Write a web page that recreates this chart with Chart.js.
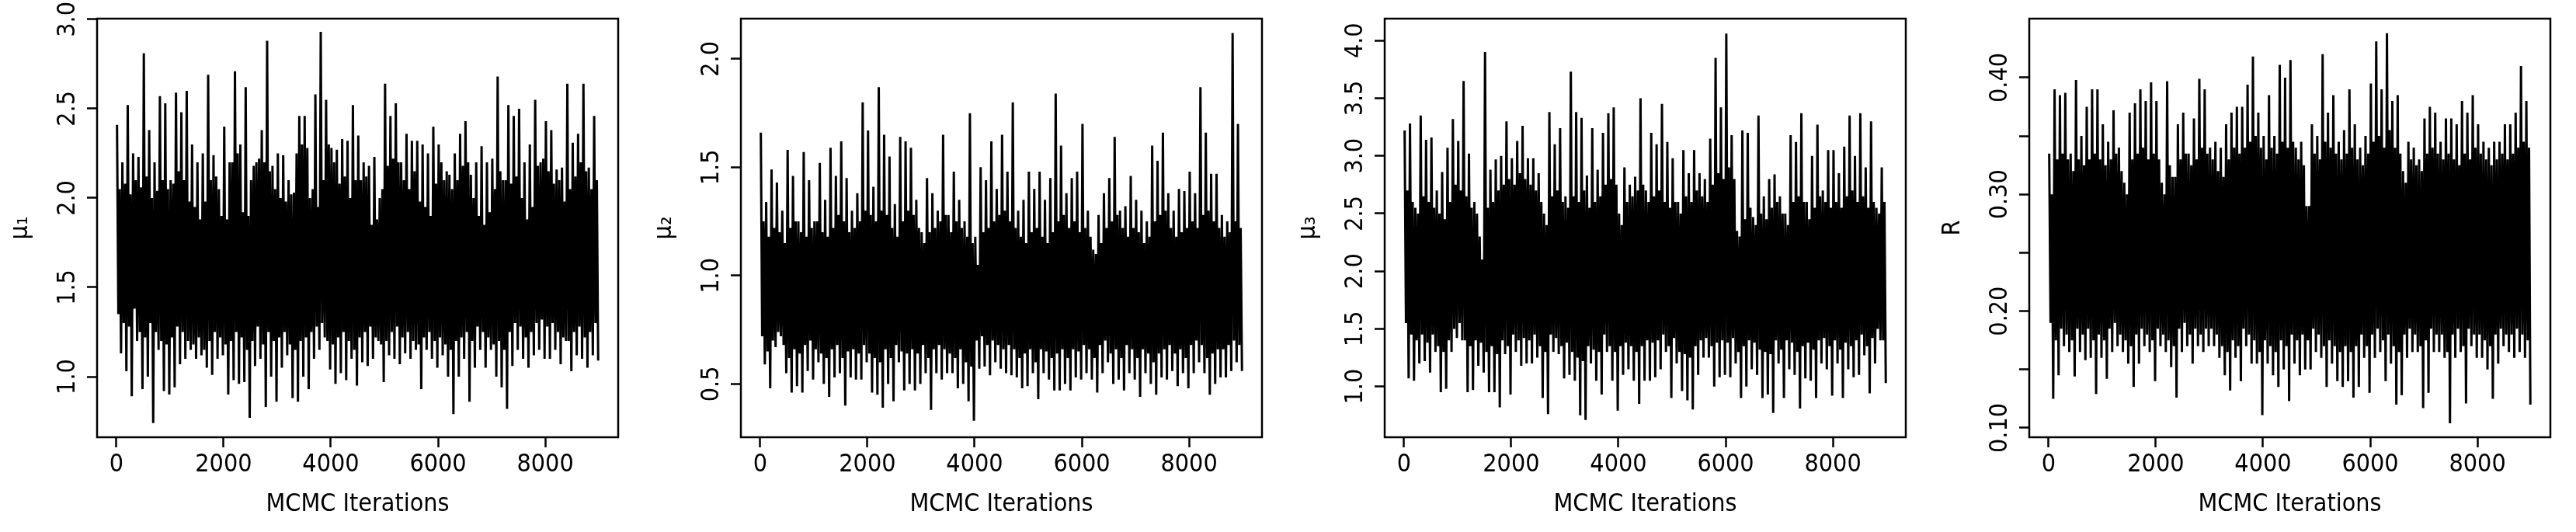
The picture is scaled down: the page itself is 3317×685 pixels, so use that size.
<!DOCTYPE html>
<html>
<head>
<meta charset="utf-8">
<script src="https://cdn.jsdelivr.net/npm/chart.js@4.4.1/dist/chart.umd.min.js"></script>
<style>
  html, body { margin: 0; padding: 0; background: #fff; }
  #row { display: flex; width: 3317px; height: 685px; }
  canvas { display: block; }
</style>
</head>
<body>
<div id="row">
  <canvas id="c1" width="829" height="685"></canvas>
  <canvas id="c2" width="829" height="685"></canvas>
  <canvas id="c3" width="830" height="685"></canvas>
  <canvas id="c4" width="829" height="685"></canvas>
</div>
<script>
'use strict';

// Trace plots of 9000 MCMC draws. For every block of 100 iterations the
// picture was read for: the tallest spike (Hi), the deepest spike (Lo), and
// the upper / lower edge of the dense black mass (Hi2 / Lo2).
const BLOCK = 100;

const iterTicks = [0, 2000, 4000, 6000, 8000];

const mu1Hi = [2.41, 2.20, 2.52, 2.25, 2.23, 2.81, 2.38, 2.20, 2.57, 2.53,
  2.10, 2.59, 2.48, 2.60, 2.30, 2.20, 2.25, 2.69, 2.24, 2.05,
  2.40, 2.20, 2.71, 2.30, 2.62, 2.10, 2.20, 2.38, 2.88, 2.18,
  2.25, 2.24, 2.10, 2.03, 2.46, 2.46, 2.00, 2.58, 2.93, 2.55,
  2.28, 2.27, 2.33, 2.32, 2.52, 2.35, 2.20, 2.18, 2.23, 2.00,
  2.64, 2.46, 2.53, 2.20, 2.36, 2.32, 2.32, 2.30, 2.25, 2.40,
  2.30, 2.10, 2.13, 2.25, 2.36, 2.43, 2.13, 2.20, 2.29, 2.20,
  2.22, 2.68, 2.10, 2.52, 2.46, 2.50, 2.20, 2.30, 2.55, 2.20,
  2.43, 2.38, 2.16, 2.17, 2.64, 2.31, 2.36, 2.64, 2.17, 2.46];
const mu1Hi2 = [2.05, 2.08, 2.02, 2.10, 2.06, 2.12, 2.00, 2.04, 2.10, 2.05,
  2.08, 2.15, 2.10, 1.98, 1.95, 1.88, 1.98, 2.10, 2.12, 1.90,
  1.88, 2.20, 2.25, 1.92, 1.90, 2.18, 2.22, 2.20, 2.15, 2.05,
  2.00, 1.98, 2.02, 2.25, 2.30, 2.28, 2.05, 1.95, 2.10, 2.30,
  2.20, 2.08, 2.12, 2.00, 2.10, 2.10, 2.12, 1.85, 1.88, 2.05,
  2.18, 2.22, 2.20, 2.10, 2.05, 2.15, 1.98, 1.95, 1.90, 2.08,
  2.20, 2.15, 2.05, 2.10, 2.18, 2.20, 2.00, 1.90, 1.85, 1.92,
  2.05, 2.15, 2.10, 2.08, 2.12, 2.00, 1.88, 1.95, 2.18, 2.22,
  2.15, 2.08, 2.10, 1.98, 2.05, 2.12, 2.20, 2.15, 2.05, 2.10];
const mu1Lo2 = [1.35, 1.30, 1.28, 1.38, 1.25, 1.22, 1.30, 1.25, 1.20, 1.18,
  1.22, 1.28, 1.25, 1.20, 1.18, 1.22, 1.15, 1.20, 1.25, 1.22,
  1.18, 1.20, 1.25, 1.22, 1.15, 1.20, 1.28, 1.18, 1.25, 1.20,
  1.22, 1.25, 1.18, 1.15, 1.20, 1.22, 1.25, 1.28, 1.30, 1.20,
  1.18, 1.22, 1.25, 1.20, 1.15, 1.22, 1.25, 1.28, 1.22, 1.18,
  1.20, 1.25, 1.28, 1.22, 1.25, 1.20, 1.18, 1.22, 1.25, 1.20,
  1.22, 1.18, 1.15, 1.20, 1.22, 1.25, 1.20, 1.28, 1.25, 1.22,
  1.18, 1.20, 1.15, 1.25, 1.30, 1.28, 1.22, 1.25, 1.30, 1.32,
  1.28, 1.30, 1.25, 1.22, 1.20, 1.25, 1.28, 1.22, 1.25, 1.30];
const mu1Lo = [1.13, 1.03, 0.89, 1.20, 0.93, 1.00, 0.74, 1.15, 0.92, 0.90,
  0.94, 1.07, 1.10, 1.15, 1.10, 1.12, 1.05, 1.01, 1.10, 1.12,
  0.90, 0.98, 0.96, 0.97, 0.77, 1.06, 1.10, 0.83, 1.00, 0.86,
  1.05, 1.12, 0.88, 0.86, 1.00, 0.93, 1.10, 1.15, 1.22, 1.04,
  0.96, 1.02, 0.98, 1.10, 0.95, 1.08, 1.06, 1.10, 1.20, 0.97,
  1.12, 1.10, 1.07, 1.13, 1.10, 1.15, 0.93, 1.15, 1.10, 1.05,
  1.12, 1.00, 0.79, 1.00, 1.10, 0.86, 1.05, 1.15, 1.05, 1.15,
  1.00, 0.94, 0.82, 1.06, 1.15, 1.10, 1.05, 1.12, 1.15, 1.10,
  1.10, 1.15, 1.07, 1.20, 1.03, 1.12, 1.10, 1.05, 1.12, 1.09];
const mu1Ticks = [1.0, 1.5, 2.0, 2.5, 3.0];
const mu1Labels = ['1.0', '1.5', '2.0', '2.5', '3.0'];

const mu2Hi = [1.66, 1.34, 1.49, 1.43, 1.30, 1.58, 1.46, 1.25, 1.57, 1.44,
  1.25, 1.52, 1.35, 1.59, 1.46, 1.62, 1.45, 1.30, 1.38, 1.80,
  1.67, 1.41, 1.87, 1.65, 1.55, 1.33, 1.64, 1.62, 1.59, 1.35,
  1.20, 1.45, 1.38, 1.30, 1.65, 1.28, 1.48, 1.35, 1.25, 1.75,
  1.18, 1.50, 1.44, 1.62, 1.40, 1.65, 1.48, 1.80, 1.30, 1.35,
  1.48, 1.40, 1.48, 1.35, 1.45, 1.84, 1.60, 1.38, 1.45, 1.48,
  1.70, 1.30, 1.12, 1.28, 1.38, 1.45, 1.64, 1.30, 1.32, 1.46,
  1.35, 1.30, 1.25, 1.60, 1.53, 1.66, 1.38, 1.30, 1.40, 1.39,
  1.48, 1.38, 1.87, 1.66, 1.47, 1.47, 1.28, 1.25, 2.12, 1.70];
const mu2Hi2 = [1.25, 1.18, 1.22, 1.20, 1.15, 1.22, 1.25, 1.20, 1.18, 1.22,
  1.25, 1.20, 1.18, 1.22, 1.28, 1.25, 1.20, 1.22, 1.25, 1.30,
  1.28, 1.25, 1.30, 1.28, 1.22, 1.18, 1.25, 1.30, 1.28, 1.22,
  1.15, 1.20, 1.22, 1.25, 1.28, 1.20, 1.25, 1.22, 1.18, 1.15,
  1.05, 1.20, 1.22, 1.25, 1.28, 1.30, 1.25, 1.22, 1.18, 1.15,
  1.20, 1.22, 1.18, 1.15, 1.20, 1.25, 1.28, 1.22, 1.25, 1.20,
  1.22, 1.18, 1.10, 1.15, 1.22, 1.25, 1.28, 1.22, 1.18, 1.22,
  1.20, 1.15, 1.18, 1.25, 1.28, 1.30, 1.22, 1.18, 1.20, 1.22,
  1.25, 1.22, 1.28, 1.30, 1.25, 1.22, 1.18, 1.20, 1.25, 1.22];
const mu2Lo2 = [0.72, 0.65, 0.70, 0.74, 0.68, 0.62, 0.66, 0.64, 0.68, 0.70,
  0.66, 0.64, 0.62, 0.66, 0.68, 0.62, 0.65, 0.66, 0.64, 0.68,
  0.64, 0.62, 0.60, 0.66, 0.62, 0.68, 0.65, 0.64, 0.66, 0.64,
  0.68, 0.62, 0.66, 0.68, 0.66, 0.64, 0.62, 0.66, 0.60, 0.58,
  0.70, 0.72, 0.68, 0.70, 0.68, 0.66, 0.68, 0.66, 0.62, 0.64,
  0.66, 0.60, 0.66, 0.65, 0.62, 0.64, 0.66, 0.62, 0.66, 0.65,
  0.68, 0.66, 0.62, 0.68, 0.70, 0.64, 0.66, 0.62, 0.68, 0.66,
  0.62, 0.66, 0.64, 0.60, 0.64, 0.66, 0.68, 0.64, 0.66, 0.62,
  0.68, 0.70, 0.68, 0.62, 0.64, 0.66, 0.66, 0.68, 0.70, 0.68];
const mu2Lo = [0.59, 0.48, 0.67, 0.72, 0.55, 0.46, 0.49, 0.46, 0.56, 0.52,
  0.60, 0.50, 0.44, 0.53, 0.55, 0.40, 0.53, 0.52, 0.52, 0.60,
  0.46, 0.45, 0.39, 0.50, 0.42, 0.60, 0.47, 0.50, 0.47, 0.50,
  0.55, 0.38, 0.55, 0.52, 0.55, 0.55, 0.48, 0.50, 0.42, 0.33,
  0.57, 0.58, 0.54, 0.60, 0.57, 0.55, 0.54, 0.53, 0.48, 0.49,
  0.55, 0.43, 0.55, 0.52, 0.47, 0.47, 0.50, 0.47, 0.53, 0.52,
  0.55, 0.52, 0.46, 0.55, 0.60, 0.50, 0.52, 0.47, 0.55, 0.52,
  0.44, 0.55, 0.50, 0.45, 0.53, 0.52, 0.56, 0.49, 0.55, 0.48,
  0.55, 0.60, 0.55, 0.45, 0.50, 0.53, 0.53, 0.56, 0.60, 0.56];
const mu2Ticks = [0.5, 1.0, 1.5, 2.0];
const mu2Labels = ['0.5', '1.0', '1.5', '2.0'];

const mu3Hi = [3.22, 3.28, 2.55, 3.35, 3.14, 3.16, 2.70, 2.86, 3.07, 3.32,
  3.13, 3.65, 3.02, 2.60, 2.30, 3.90, 2.88, 2.97, 3.00, 3.30,
  2.98, 3.13, 3.26, 2.98, 2.98, 2.85, 2.50, 3.38, 3.10, 3.24,
  2.65, 3.73, 3.38, 3.33, 2.83, 3.24, 2.88, 3.20, 3.37, 3.42,
  2.50, 2.90, 2.75, 2.82, 3.50, 2.70, 3.20, 3.10, 3.45, 3.12,
  2.98, 2.60, 3.05, 2.85, 3.05, 2.85, 2.80, 3.15, 3.85, 3.42,
  4.06, 3.18, 2.35, 3.22, 3.20, 2.47, 3.35, 2.65, 2.80, 2.84,
  2.65, 2.50, 3.18, 3.12, 3.37, 2.60, 3.00, 3.27, 2.70, 3.05,
  3.05, 2.85, 3.08, 3.35, 3.00, 3.37, 2.90, 3.30, 2.55, 2.90];
const mu3Hi2 = [2.70, 2.60, 2.50, 2.65, 2.60, 2.55, 2.50, 2.45, 2.60, 2.75,
  2.70, 2.65, 2.55, 2.50, 2.10, 2.55, 2.60, 2.70, 2.75, 2.80,
  2.75, 2.85, 2.80, 2.75, 2.70, 2.60, 2.40, 2.65, 2.70, 2.60,
  2.55, 2.65, 2.60, 2.70, 2.55, 2.60, 2.65, 2.75, 2.80, 2.75,
  2.40, 2.60, 2.65, 2.70, 2.75, 2.60, 2.65, 2.70, 2.60, 2.55,
  2.60, 2.50, 2.65, 2.60, 2.70, 2.65, 2.60, 2.75, 2.85, 2.80,
  2.90, 2.80, 2.30, 2.45, 2.55, 2.40, 2.50, 2.45, 2.55, 2.60,
  2.50, 2.40, 2.60, 2.65, 2.60, 2.45, 2.55, 2.65, 2.60, 2.55,
  2.60, 2.55, 2.65, 2.70, 2.60, 2.65, 2.55, 2.60, 2.50, 2.60];
const mu3Lo2 = [1.55, 1.45, 1.40, 1.45, 1.38, 1.45, 1.35, 1.30, 1.40, 1.50,
  1.55, 1.40, 1.35, 1.40, 1.38, 1.30, 1.35, 1.28, 1.40, 1.35,
  1.45, 1.40, 1.42, 1.40, 1.45, 1.35, 1.30, 1.45, 1.42, 1.35,
  1.38, 1.30, 1.25, 1.22, 1.35, 1.32, 1.30, 1.45, 1.35, 1.30,
  1.35, 1.38, 1.35, 1.30, 1.35, 1.40, 1.38, 1.40, 1.45, 1.35,
  1.42, 1.30, 1.28, 1.25, 1.35, 1.40, 1.42, 1.35, 1.38, 1.40,
  1.38, 1.42, 1.30, 1.35, 1.40, 1.38, 1.32, 1.30, 1.28, 1.40,
  1.32, 1.40, 1.38, 1.30, 1.35, 1.38, 1.32, 1.40, 1.42, 1.35,
  1.40, 1.32, 1.38, 1.35, 1.40, 1.45, 1.35, 1.42, 1.50, 1.40];
const mu3Lo = [1.07, 1.05, 1.20, 1.22, 1.12, 1.30, 0.95, 0.98, 1.30, 1.42,
  1.40, 0.95, 0.97, 1.18, 1.12, 0.95, 0.95, 0.82, 1.28, 0.93,
  1.30, 1.18, 1.20, 1.20, 1.25, 0.90, 0.76, 1.30, 1.28, 1.07,
  1.10, 1.05, 0.75, 0.71, 1.20, 1.05, 0.93, 1.30, 1.05, 0.79,
  1.10, 1.15, 1.05, 0.85, 1.05, 1.05, 1.08, 1.15, 1.30, 0.90,
  1.20, 0.96, 0.88, 0.80, 1.10, 1.25, 1.25, 1.00, 1.08, 1.10,
  1.08, 1.20, 0.90, 1.00, 1.15, 1.10, 0.90, 0.93, 0.77, 1.20,
  0.90, 1.15, 1.10, 0.81, 1.07, 1.05, 0.90, 1.20, 1.15, 0.92,
  1.20, 0.90, 1.15, 1.08, 1.10, 1.27, 0.94, 1.20, 1.40, 1.03];
const mu3Ticks = [1.0, 1.5, 2.0, 2.5, 3.0, 3.5, 4.0];
const mu3Labels = ['1.0', '1.5', '2.0', '2.5', '3.0', '3.5', '4.0'];

const rHi = [0.335, 0.390, 0.385, 0.387, 0.335, 0.398, 0.350, 0.375, 0.390, 0.390,
  0.360, 0.345, 0.372, 0.340, 0.310, 0.370, 0.378, 0.390, 0.380, 0.396,
  0.380, 0.310, 0.397, 0.315, 0.360, 0.370, 0.335, 0.365, 0.399, 0.390,
  0.340, 0.345, 0.340, 0.360, 0.370, 0.375, 0.375, 0.394, 0.418, 0.370,
  0.350, 0.385, 0.350, 0.411, 0.400, 0.415, 0.340, 0.345, 0.290, 0.360,
  0.350, 0.420, 0.370, 0.385, 0.345, 0.355, 0.390, 0.360, 0.340, 0.350,
  0.395, 0.431, 0.390, 0.438, 0.380, 0.385, 0.320, 0.345, 0.340, 0.330,
  0.365, 0.375, 0.370, 0.345, 0.365, 0.365, 0.360, 0.380, 0.370, 0.385,
  0.360, 0.345, 0.340, 0.345, 0.345, 0.360, 0.360, 0.370, 0.410, 0.380];
const rHi2 = [0.300, 0.330, 0.335, 0.330, 0.320, 0.330, 0.325, 0.330, 0.335, 0.330,
  0.325, 0.330, 0.335, 0.320, 0.300, 0.330, 0.335, 0.340, 0.330, 0.335,
  0.330, 0.300, 0.325, 0.315, 0.330, 0.335, 0.325, 0.330, 0.340, 0.335,
  0.330, 0.320, 0.315, 0.330, 0.340, 0.335, 0.340, 0.345, 0.350, 0.340,
  0.330, 0.340, 0.335, 0.345, 0.340, 0.345, 0.330, 0.325, 0.290, 0.335,
  0.330, 0.345, 0.340, 0.335, 0.330, 0.335, 0.340, 0.330, 0.325, 0.335,
  0.345, 0.350, 0.340, 0.355, 0.340, 0.335, 0.310, 0.330, 0.325, 0.320,
  0.335, 0.340, 0.335, 0.330, 0.335, 0.330, 0.325, 0.335, 0.330, 0.340,
  0.335, 0.330, 0.325, 0.330, 0.335, 0.330, 0.335, 0.340, 0.345, 0.340];
const rLo2 = [0.190, 0.175, 0.185, 0.180, 0.175, 0.185, 0.180, 0.185, 0.175, 0.180,
  0.175, 0.185, 0.190, 0.180, 0.175, 0.170, 0.180, 0.185, 0.180, 0.175,
  0.185, 0.180, 0.175, 0.170, 0.185, 0.190, 0.180, 0.185, 0.180, 0.185,
  0.185, 0.180, 0.170, 0.165, 0.175, 0.170, 0.185, 0.180, 0.175, 0.165,
  0.175, 0.170, 0.165, 0.175, 0.170, 0.180, 0.175, 0.180, 0.175, 0.185,
  0.180, 0.170, 0.175, 0.170, 0.165, 0.170, 0.165, 0.170, 0.180, 0.170,
  0.180, 0.185, 0.175, 0.180, 0.170, 0.165, 0.180, 0.185, 0.180, 0.170,
  0.175, 0.185, 0.180, 0.180, 0.165, 0.180, 0.185, 0.170, 0.185, 0.180,
  0.180, 0.175, 0.170, 0.180, 0.185, 0.180, 0.180, 0.185, 0.180, 0.175];
const rLo = [0.125, 0.145, 0.170, 0.165, 0.144, 0.165, 0.158, 0.160, 0.129, 0.160,
  0.142, 0.165, 0.170, 0.165, 0.155, 0.135, 0.155, 0.170, 0.165, 0.140,
  0.170, 0.165, 0.152, 0.126, 0.165, 0.170, 0.155, 0.170, 0.165, 0.170,
  0.170, 0.160, 0.145, 0.132, 0.160, 0.140, 0.170, 0.155, 0.155, 0.111,
  0.155, 0.145, 0.135, 0.150, 0.123, 0.155, 0.145, 0.150, 0.150, 0.165,
  0.160, 0.135, 0.155, 0.140, 0.135, 0.140, 0.126, 0.135, 0.160, 0.130,
  0.160, 0.165, 0.140, 0.155, 0.120, 0.128, 0.160, 0.165, 0.165, 0.117,
  0.130, 0.165, 0.165, 0.160, 0.104, 0.160, 0.165, 0.121, 0.170, 0.160,
  0.160, 0.150, 0.125, 0.155, 0.170, 0.165, 0.160, 0.165, 0.160, 0.120];
const rTicks = [0.10, 0.15, 0.20, 0.25, 0.30, 0.35, 0.40];
const rLabels = ['0.10', '', '0.20', '', '0.30', '', '0.40'];

// Pick the first installed face (compared against the monospace fallback)
function pickFont(candidates) {
  const c = document.createElement('canvas').getContext('2d');
  const probe = 'MCMC Iterations 0123456789';
  c.font = '32px monospace';
  const base = c.measureText(probe).width;
  for (const f of candidates) {
    c.font = `32px "${f}", monospace`;
    if (c.measureText(probe).width !== base) return f;
  }
  return 'sans-serif';
}

const FONT = pickFont(['DejaVu Sans Condensed', 'Liberation Sans', 'DejaVu Sans']);
const FONT_SIZE = 32;

// One block = tall spike, lower mass edge, upper mass edge, deep spike
function traceFrom(hi, hi2, lo2, lo) {
  const pts = [];
  hi.forEach((h, i) => {
    const x0 = i * BLOCK;
    pts.push({ x: x0 + 12, y: h });
    pts.push({ x: x0 + 37, y: lo2[i] });
    pts.push({ x: x0 + 62, y: hi2[i] });
    pts.push({ x: x0 + 87, y: lo[i] });
  });
  return pts;
}

// Box round the plot region and vertical y tick labels, as base R draws them
const rFrame = {
  id: 'rFrame',
  afterDraw(chart, args, opts) {
    const { ctx, chartArea: a } = chart;
    const y = chart.scales.y;
    ctx.save();
    ctx.strokeStyle = '#000';
    ctx.lineWidth = 2.5;
    ctx.strokeRect(a.left, a.top, a.right - a.left, a.bottom - a.top);
    ctx.fillStyle = '#000';
    ctx.font = `${FONT_SIZE}px "${FONT}"`;
    ctx.textAlign = 'center';
    ctx.textBaseline = 'alphabetic';
    y.ticks.forEach((t, i) => {
      const text = opts.labels[i];
      if (!text) return;
      ctx.save();
      ctx.translate(opts.labelX, y.getPixelForTick(i));
      ctx.rotate(-Math.PI / 2);
      ctx.fillText(text, 0, 0);
      ctx.restore();
    });
    ctx.restore();
  },
};

const panels = [
  { id: 'c1', hi: mu1Hi, hi2: mu1Hi2, lo2: mu1Lo2, lo: mu1Lo, ylab: 'μ₁', ticks: mu1Ticks, labels: mu1Labels, min: 0.661, max: 3.004 },
  { id: 'c2', hi: mu2Hi, hi2: mu2Hi2, lo2: mu2Lo2, lo: mu2Lo, ylab: 'μ₂', ticks: mu2Ticks, labels: mu2Labels, min: 0.254, max: 2.186 },
  { id: 'c3', hi: mu3Hi, hi2: mu3Hi2, lo2: mu3Lo2, lo: mu3Lo, ylab: 'μ₃', ticks: mu3Ticks, labels: mu3Labels, min: 0.56, max: 4.19 },
  { id: 'c4', hi: rHi, hi2: rHi2, lo2: rLo2, lo: rLo, ylab: 'R', ticks: rTicks, labels: rLabels, min: 0.092, max: 0.4505 },
];

const tickGrid = {
  display: true,
  drawOnChartArea: false,
  drawTicks: true,
  tickLength: 13,
  tickWidth: 2.5,
  tickColor: '#000',
  color: '#000',
};

panels.forEach(p => {
  const canvas = document.getElementById(p.id);
  new Chart(canvas, {
    type: 'line',
    data: {
      datasets: [{
        data: traceFrom(p.hi, p.hi2, p.lo2, p.lo),
        borderColor: '#000',
        borderWidth: 3,
        pointRadius: 0,
        tension: 0,
        fill: false,
      }],
    },
    options: {
      responsive: false,
      animation: false,
      devicePixelRatio: 1,
      parsing: false,
      layout: { padding: { top: 24, right: canvas.width - 796, left: 0, bottom: 0 } },
      plugins: {
        legend: { display: false },
        tooltip: { enabled: false },
        rFrame: { labels: p.labels, labelX: 96 },
      },
      scales: {
        x: {
          type: 'linear',
          min: -360,
          max: 9360,
          afterBuildTicks: s => { s.ticks = iterTicks.map(v => ({ value: v })); },
          afterFit: s => { s.height = 122; },
          grid: tickGrid,
          border: { display: false },
          ticks: {
            color: '#000',
            font: { family: FONT, size: FONT_SIZE, lineHeight: 1.2 },
            padding: 3,
            maxRotation: 0,
            autoSkip: false,
            callback: v => String(v),
          },
          title: {
            display: true,
            text: 'MCMC Iterations',
            color: '#000',
            font: { family: FONT, size: FONT_SIZE, lineHeight: 1.2 },
            padding: { top: 0, bottom: 16 },
          },
        },
        y: {
          type: 'linear',
          min: p.min,
          max: p.max,
          afterBuildTicks: s => { s.ticks = p.ticks.map(v => ({ value: v })); },
          afterFit: s => { s.width = 125; },
          grid: tickGrid,
          border: { display: false },
          ticks: { display: false },
          title: {
            display: true,
            text: p.ylab,
            color: '#000',
            font: { family: FONT, size: FONT_SIZE, lineHeight: 1.2 },
            padding: { top: 7, bottom: 0 },
          },
        },
      },
    },
    plugins: [rFrame],
  });
});
</script>
</body>
</html>
